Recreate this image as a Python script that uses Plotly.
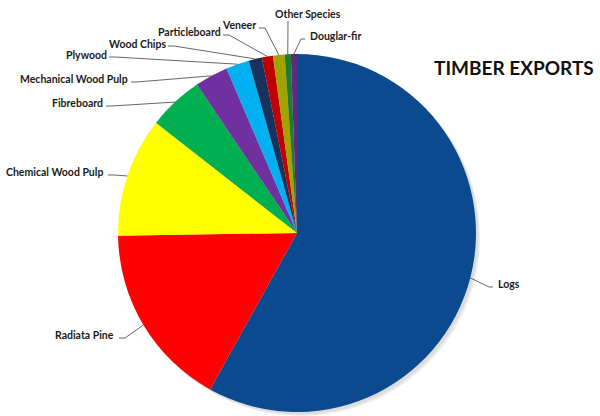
import math
import plotly.graph_objects as go

# timber exports share (%)
categories = ['Logs', 'Radiata Pine', 'Chemical Wood Pulp', 'Fibreboard',
              'Mechanical Wood Pulp', 'Plywood', 'Wood Chips', 'Particleboard',
              'Veneer', 'Other Species', 'Douglar-fir']
values = [58.1, 16.7, 10.8, 5.0, 3.0, 2.1, 1.2, 1.0, 1.05, 0.55, 0.55]
colors = ['#0B4A8E', '#FF0000', '#FFFF00', '#00B050', '#7030A0', '#00B0F0',
          '#17325C', '#C00000', '#A3A300', '#1E7B34', '#5B2C7E']

W, H = 600, 416
# pie geometry in pixels
cx, cy, r = 297, 233, 179

# label placement (pixels): text x, text y, xanchor, leader start x, y
label_pos = {
    'Logs':                 (496, 284, 'left', 493, 287),
    'Radiata Pine':         (116, 335, 'right', 121, 338),
    'Chemical Wood Pulp':   (105, 172, 'right', 110, 175),
    'Fibreboard':           (105, 103, 'right', 108, 106),
    'Mechanical Wood Pulp': (130, 79, 'right', 133, 82),
    'Plywood':              (109, 55, 'right', 111, 57),
    'Wood Chips':           (168, 44, 'right', 170, 46),
    'Particleboard':        (223, 32, 'right', 225, 35),
    'Veneer':               (258, 25, 'right', 261, 28),
    'Other Species':        (308, 14, 'center', 288, 21),
    'Douglar-fir':          (308, 36, 'left', 305, 39),
}


def px(x, y):
    return x / W, 1 - y / H


fig = go.Figure(go.Pie(
    labels=categories,
    values=values,
    sort=False,
    direction='clockwise',
    rotation=0,
    marker=dict(colors=colors, line=dict(width=0)),
    textinfo='none',
    hoverinfo='label+percent',
    domain=dict(x=[(cx - r) / W, (cx + r) / W], y=[1 - (cy + r) / H, 1 - (cy - r) / H]),
    showlegend=False,
))

annotations = []
shapes = []
# soft shadow behind the pie
for off, col in [(4, '#ececec'), (2.5, '#dcdcdc')]:
    x0, y0 = px(cx - r + off, cy - r + off)
    x1, y1 = px(cx + r + off, cy + r + off)
    shapes.append(dict(type='circle', xref='paper', yref='paper', x0=x0, x1=x1,
                       y0=y1, y1=y0, fillcolor=col, line=dict(width=0), layer='below'))

total = sum(values)
cum = 0
for name, v in zip(categories, values):
    mid = (cum + v / 2) / total * 2 * math.pi
    cum += v
    tx = cx + r * math.sin(mid)
    ty = cy - r * math.cos(mid)
    lx, ly, anchor, sx, sy = label_pos[name]
    ax, ay = px(lx, ly)
    annotations.append(dict(x=ax, y=ay, xref='paper', yref='paper', text=name,
                            showarrow=False, xanchor=anchor, yanchor='middle',
                            font=dict(family='Lato', size=10.5, color='#1a1a1a', weight='bold')))
    # leader line: short tick from the label then to the slice edge
    if anchor == 'right':
        ex = sx + 4
    elif anchor == 'left':
        ex = sx - 4
    else:
        ex = sx
    pts = [(sx - (2 if anchor == 'right' else 0), sy), (ex, sy), (tx, ty)]
    path = 'M ' + ' L '.join('%.4f,%.4f' % px(a, b) for a, b in pts)
    shapes.append(dict(type='path', xref='paper', yref='paper', path=path,
                       line=dict(color='#404040', width=0.8)))

tx, ty = px(432, 67)
annotations.append(dict(x=tx, y=ty, xref='paper', yref='paper', text='TIMBER EXPORTS',
                        showarrow=False, xanchor='left', yanchor='middle',
                        font=dict(family='Lato', size=19, color='#111111', weight='bold')))

fig.update_layout(width=W, height=H, margin=dict(l=0, r=0, t=0, b=0),
                  paper_bgcolor='white', plot_bgcolor='white',
                  annotations=annotations, shapes=shapes)

# page body has a default 8px margin, drop it so the figure sits at 0,0
fig.write_html('out.html', config={'displayModeBar': False},
               post_script="document.body.style.margin='0';")
